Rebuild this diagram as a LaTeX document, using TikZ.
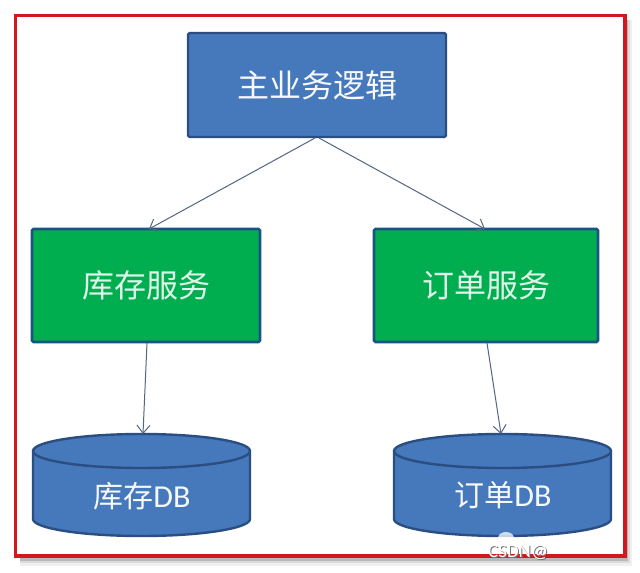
\documentclass[tikz,border=0pt]{standalone}
\usepackage{fontspec}
\usetikzlibrary{arrows.meta}
\newfontfamily\cjk{Noto Sans CJK SC}
\setmainfont{Carlito}
\definecolor{fillblue}{RGB}{70,120,188}
\definecolor{edgeblue}{RGB}{42,78,130}
\definecolor{fillgreen}{RGB}{0,174,80}
\definecolor{edgegreen}{RGB}{25,85,130}
\definecolor{framered}{RGB}{208,24,30}
\definecolor{arrowline}{RGB}{85,100,130}
\tikzset{
  x=1pt,y=-1pt,
  bluebox/.style={draw=edgeblue,line width=2.4pt,rounded corners=1.5pt,fill=fillblue,text=white!95!fillblue,inner sep=0pt,font=\cjk\fontsize{32}{32}\selectfont},
  greenbox/.style={draw=edgegreen,line width=2.8pt,rounded corners=1.5pt,fill=fillgreen,text=white!88!fillgreen,inner sep=0pt,font=\cjk\fontsize{32}{32}\selectfont},
  dbshape/.style={draw=edgeblue,line width=2.4pt,fill=fillblue,line join=round},
  link/.style={draw=arrowline,line width=1pt,-{Straight Barb[length=8pt,width=13pt,line width=1pt]}},
  dbtext/.style={text=white!95!fillblue,inner sep=0pt,font=\fontsize{32}{32}\selectfont},
  wm/.style={inner sep=0pt,font=\fontsize{19}{19}\selectfont}
}
\begin{document}
\begin{tikzpicture}
\useasboundingbox (0,0) rectangle (640,573);
\fill[white] (0,0) rectangle (640,573);
\fill[black!6] (20,20) rectangle (632,566);
\fill[black!14] (20,20) rectangle (630,563);
\fill[black!28] (20,20) rectangle (628,561);
\draw[framered,line width=3.6pt,fill=white] (15.5,15.5) rectangle (625,556);
\node[bluebox,minimum width=258pt,minimum height=104pt] (main) at (317,85) {主业务逻辑};
\node[greenbox,minimum width=228pt,minimum height=113pt] (stock) at (146,285.5) {库存服务};
\node[greenbox,minimum width=224pt,minimum height=113pt] (order) at (486,285.5) {订单服务};
% cylinders
\path[dbshape]
  (33,451) arc[start angle=180,end angle=360,x radius=108.5,y radius=17]
  -- (250,519) arc[start angle=0,end angle=180,x radius=108.5,y radius=17] -- cycle;
\draw[edgeblue,line width=2.4pt] (33,451) arc[start angle=180,end angle=0,x radius=108.5,y radius=17];
\path[dbshape]
  (394,451) arc[start angle=180,end angle=360,x radius=108.5,y radius=17]
  -- (611,519) arc[start angle=0,end angle=180,x radius=108.5,y radius=17] -- cycle;
\draw[edgeblue,line width=2.4pt] (394,451) arc[start angle=180,end angle=0,x radius=108.5,y radius=17];
\node[dbtext] (stockdb) at (142,496) {{\cjk\fontsize{30}{30}\selectfont 库存}DB};
\node[dbtext] (orderdb) at (503,495) {{\cjk\fontsize{30}{30}\selectfont 订单}DB};
\coordinate (m1) at (315,138);
\coordinate (m2) at (319,138);
\coordinate (s1) at (149,229);
\coordinate (o1) at (485,229);
\coordinate (db1) at (143,434);
\coordinate (db2) at (501,434);
\coordinate (s2) at (147,343);
\coordinate (o2) at (487,343);
\draw[link] (m1) -- (s1);
\draw[link] (m2) -- (o1);
\draw[link] (s2) -- (db1);
\draw[link] (o2) -- (db2);
\fill[white,opacity=0.75] (506,538) ellipse[x radius=8,y radius=6];
\node[wm,text=black!55,anchor=west] at (489,553) {CSDN@};
\node[wm,text=white,anchor=west] (wmark) at (488,552) {CSDN@};
\end{tikzpicture}
\end{document}
